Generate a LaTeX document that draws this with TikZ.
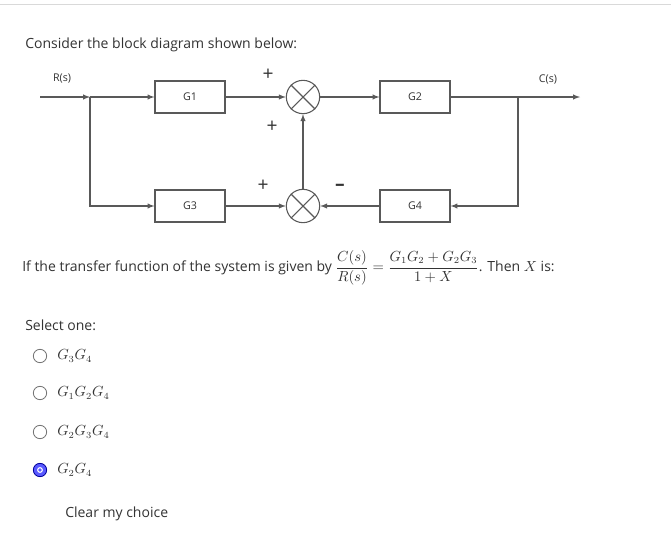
\documentclass[tikz,border=0pt]{standalone}
\usepackage{amsmath}
\usepackage{fontspec}
\setmainfont{Open Sans}
\begin{document}
\begin{tikzpicture}[x=0.75pt,y=-0.75pt,>=latex,
  blk/.style={draw=black!65,line width=0.8pt,minimum width=52.5pt,minimum height=24pt,font=\footnotesize,text=black!80},
  sumj/.style={draw=black!65,line width=0.8pt,circle,minimum size=25pt,inner sep=0pt},
  wire/.style={draw=black!65,line width=0.8pt},
  txt/.style={text=black!80,font=\fontsize{10.5}{12}\selectfont,inner sep=0pt},
  radio/.style={draw=black!55,circle,minimum size=10pt,inner sep=0pt,line width=0.6pt}]
\useasboundingbox[fill=white] (0,0) rectangle (671,532);
\draw[black!15] (0,4) -- (671,4);
\node[txt,anchor=west] (q) at (25,45) {Consider the block diagram shown below:};
% blocks
\node[blk] (g1) at (190,97) {G1};
\node[blk] (g2) at (415,97) {G2};
\node[blk] (g3) at (190,206) {G3};
\node[blk] (g4) at (415,206) {G4};
\node[sumj] (s1) at (303,97) {};
\node[sumj] (s2) at (303,206) {};
\foreach \s in {s1,s2}{
  \draw[wire] (\s.north east) -- (\s.south west) (\s.north west) -- (\s.south east);}
\coordinate (in) at (40,97);
\coordinate (j1) at (90,97);
\coordinate (j2) at (518,97);
\coordinate (out) at (580,97);
\node[txt,font=\footnotesize] (rl) at (62,79) {R(s)};
\node[txt,font=\footnotesize] (cl) at (548,79) {C(s)};
\draw[wire,->] (in) -- (j1);
\draw[wire,->] (j1) -- (g1.west);
\draw[wire,->] (j1) |- (g3.west);
\draw[wire,->] (g1.east) -- (s1.west);
\draw[wire,->] (s1.east) -- (g2.west);
\draw[wire,->] (g2.east) -- (out);
\draw[wire,->] (j2) |- (g4.east);
\draw[wire,->] (g4.west) -- (s2.east);
\draw[wire,->] (g3.east) -- (s2.west);
\draw[wire,->] (s2.north) -- (s1.south);
\node[txt,font=\Large] (p1) at (268,75) {+};
\node[txt,font=\Large] (p2) at (272,127) {+};
\node[txt,font=\Large] (p3) at (263,186) {+};
\node[txt,font=\Large] (m1) at (340,187) {\textbf{--}};
% question
\node[txt,anchor=west] (f) at (22,268) {If the transfer function of the system is given by $\dfrac{C(s)}{R(s)}=\dfrac{G_1G_2+G_2G_3}{1+X}$. Then $X$ is:};
\node[txt,anchor=west] (sel) at (25,325) {Select one:};
\node[radio] (r1) at (40,356) {};
\node[radio] (r2) at (40,393) {};
\node[radio] (r3) at (40,432) {};
\node[radio,draw=blue!60!black,fill=blue!65] (r4) at (40,470) {};
\fill[white] (r4) circle (2.2pt);
\fill[blue!65] (r4) circle (1.4pt);
\node[txt,anchor=west] (o1) at (57,356) {$G_3G_4$};
\node[txt,anchor=west] (o2) at (57,393) {$G_1G_2G_4$};
\node[txt,anchor=west] (o3) at (57,432) {$G_2G_3G_4$};
\node[txt,anchor=west] (o4) at (57,470) {$G_2G_4$};
\node[txt,anchor=west] (clr) at (65,514) {Clear my choice};
\end{tikzpicture}
\end{document}
